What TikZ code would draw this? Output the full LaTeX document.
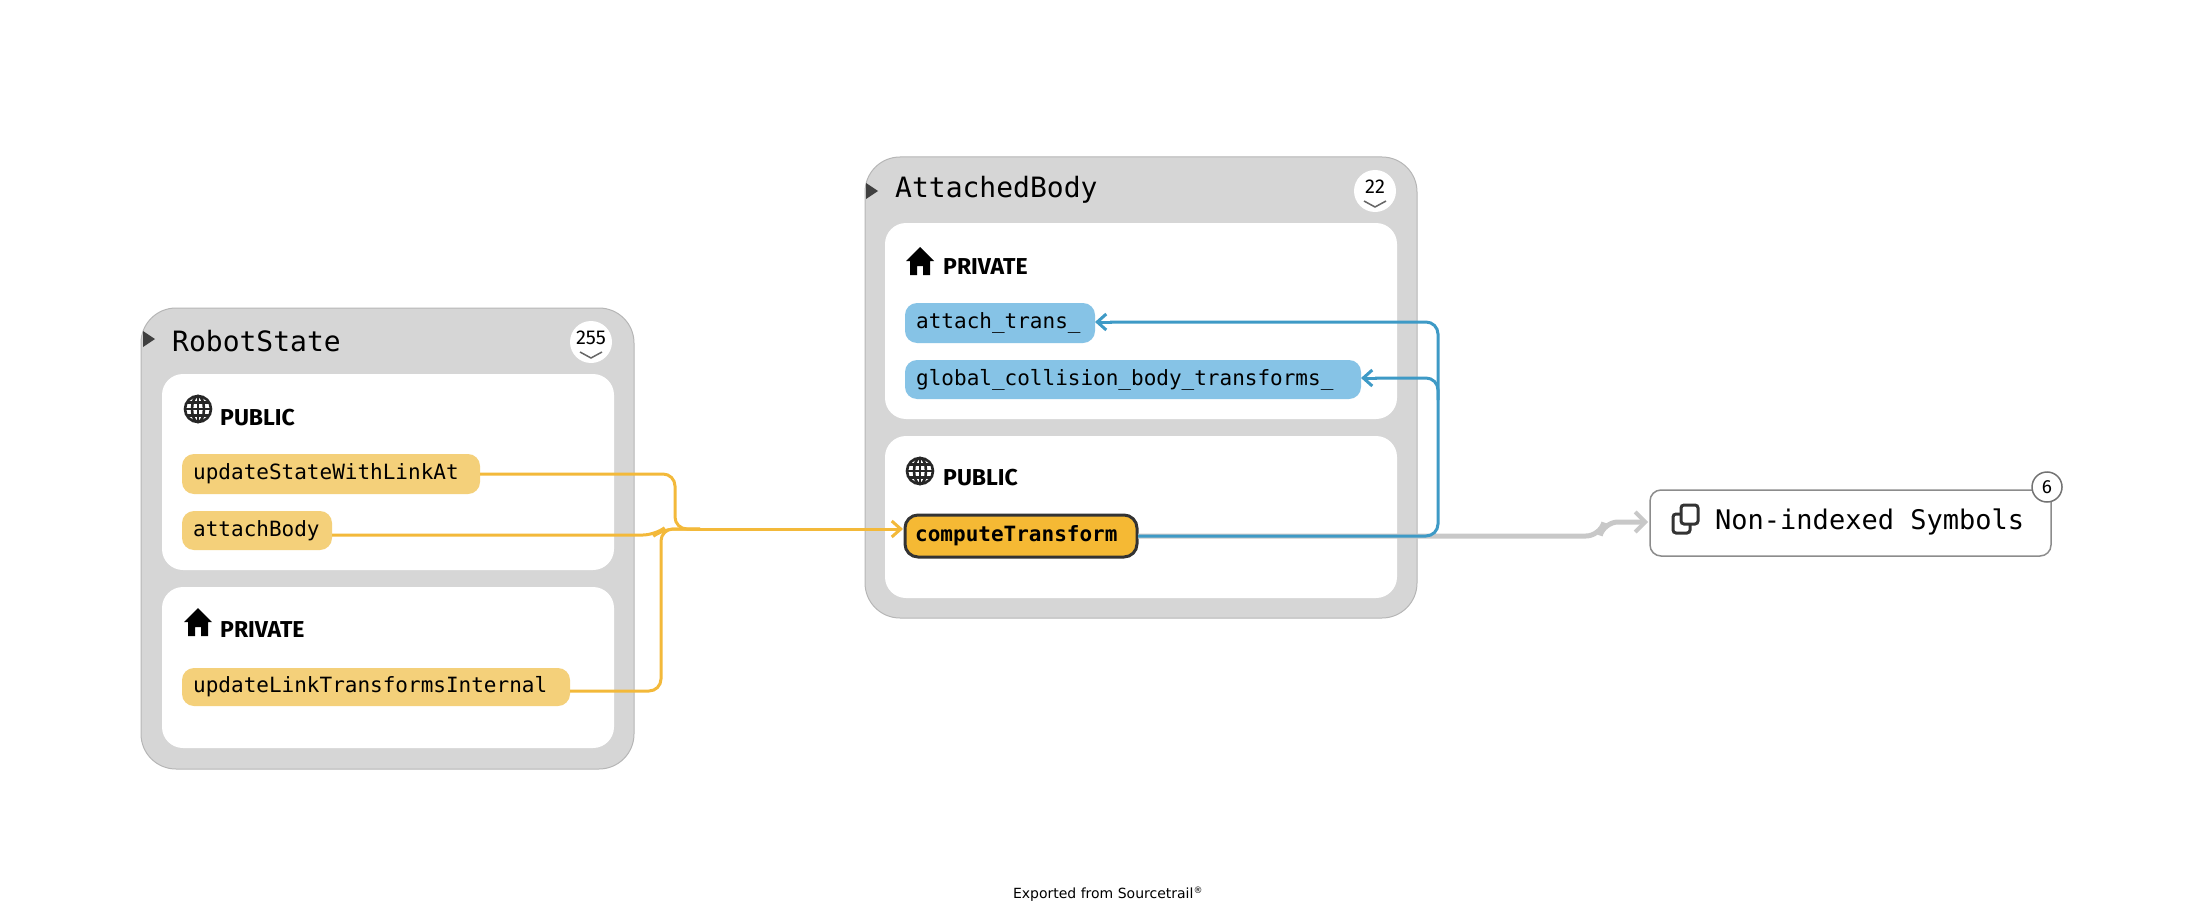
\documentclass[tikz,border=0pt]{standalone}
\usepackage{fontspec}
\setmainfont{DejaVu Sans}
\newfontfamily\monof{DejaVu Sans Mono}
\newfontfamily\headf{Fira Sans}
\usetikzlibrary{arrows.meta}
\definecolor{outerg}{HTML}{D6D6D6}
\definecolor{pilly}{HTML}{F4D07A}
\definecolor{pillb}{HTML}{86C3E6}
\definecolor{acty}{HTML}{F5B934}
\definecolor{edgy}{HTML}{F3B93A}
\definecolor{edgb}{HTML}{3E9AC6}
\definecolor{edgg}{HTML}{C8C8C8}
\tikzset{
 outerbox/.style={fill=outerg,draw=outerg!85!black,line width=1pt,rounded corners=35pt},
 innerbox/.style={fill=white,rounded corners=21pt},
 pill/.style={rounded corners=12pt,inner sep=0pt},
 pilltext/.style={font=\monof\fontsize{21}{24}\selectfont,anchor=west,inner sep=0pt},
 titletext/.style={font=\monof\fontsize{28}{32}\selectfont,anchor=west,inner sep=0pt},
 headtext/.style={font=\headf\bfseries\fontsize{23}{26}\selectfont,anchor=west,inner sep=0pt},
 badge/.style={circle,fill=white,minimum size=42pt,inner sep=0pt},
 yedge/.style={draw=edgy,line width=3pt,rounded corners=12pt},
 bedge/.style={draw=edgb,line width=3pt,rounded corners=12pt},
 arrowy/.style={-{Straight Barb[length=9pt,width=16pt,line width=3pt]}},
}
\newcommand{\globeicon}[1]{%
 \begin{scope}[shift={#1},line width=2.6pt,black!85]
  \draw (0,0) circle (13pt);
  \draw (0,-13) -- (0,13); \draw (-13,0) -- (13,0);
  \draw (0,0) ellipse (6pt and 13pt);
  \draw (-11,-6.5) -- (11,-6.5); \draw (-11,6.5) -- (11,6.5);
 \end{scope}}
\newcommand{\houseicon}[1]{%
 \begin{scope}[shift={#1}]
  \fill[black] (-14,0) -- (0,-14) -- (14,0) -- (10,0) -- (10,14) -- (3,14) -- (3,5) -- (-3,5) -- (-3,14) -- (-10,14) -- (-10,0) -- cycle;
 \end{scope}}
\begin{document}
\begin{tikzpicture}[x=1pt,y=-1pt]
\useasboundingbox (0,0) rectangle (2202,912);
% ---------- RobotState
\draw[outerbox] (141,308) rectangle (634,769);
\fill[black!75] (143,331) -- (155,339) -- (143,347) -- cycle;
\node[titletext] (rstitle) at (172,341) {RobotState};
\node[badge] (rsbadge) at (591,342) {};
\node[font=\headf\fontsize{20}{22}\selectfont,inner sep=0pt] at (591,338) {255};
\draw[black!60,line width=1.5pt] (580,352) -- (591,358) -- (602,352);
\fill[innerbox] (162,374) rectangle (614,570);
\globeicon{(198,409)}
\node[headtext] (rspub) at (220,418) {PUBLIC};
\fill[pilly,pill] (182,454) rectangle (480,494);
\node[pilltext] (usw) at (193,474) {updateStateWithLinkAt};
\coordinate (uswR) at (480,474);
\fill[pilly,pill] (182,511) rectangle (332,550);
\node[pilltext] (ab) at (193,531) {attachBody};
\coordinate (abR) at (332,535);
\fill[innerbox] (162,587) rectangle (614,748);
\houseicon{(198,622)}
\node[headtext] (rspriv) at (220,630) {PRIVATE};
\fill[pilly,pill] (182,668) rectangle (570,706);
\node[pilltext] (ulti) at (193,687) {updateLinkTransformsInternal};
\coordinate (ultiR) at (570,691);
% ---------- AttachedBody
\draw[outerbox] (865,157) rectangle (1417,618);
\fill[black!75] (866,183) -- (878,191) -- (866,199) -- cycle;
\node[titletext] (abtitle) at (895,190) {AttachedBody};
\node[badge] (abbadge) at (1375,191) {};
\node[font=\headf\fontsize{20}{22}\selectfont,inner sep=0pt] at (1375,187) {22};
\draw[black!60,line width=1.5pt] (1364,201) -- (1375,207) -- (1386,201);
\fill[innerbox] (885,223) rectangle (1397,419);
\houseicon{(920,261)}
\node[headtext] (abpriv) at (943,267) {PRIVATE};
\fill[pillb,pill] (905,303) rectangle (1095,343);
\node[pilltext] (at) at (916,323) {attach\_trans\_};
\coordinate (atR) at (1095,322);
\fill[pillb,pill] (905,360) rectangle (1361,399);
\node[pilltext] (gc) at (916,380) {global\_collision\_body\_transforms\_};
\coordinate (gcR) at (1361,378);
\fill[innerbox] (885,436) rectangle (1397,598);
\globeicon{(920,471)}
\node[headtext] (abpub) at (943,478) {PUBLIC};
\draw[fill=acty,draw=black!80,line width=3pt,rounded corners=13pt] (905,515) rectangle (1137,557);
\node[pilltext,font=\monof\bfseries\fontsize{21}{24}\selectfont] (ct) at (915,536) {computeTransform};
\coordinate (ctL) at (903,529);
\coordinate (ctR) at (1138,536);
% ---------- Non-indexed
\draw[fill=white,draw=black!45,line width=1.5pt,rounded corners=11pt] (1650,490) rectangle (2051,556);
\node[titletext,font=\monof\fontsize{27}{30}\selectfont] (ni) at (1715,522) {Non-indexed Symbols};
\coordinate (niL) at (1648,522);
\draw[black!80,line width=3pt,rounded corners=3pt] (1673,514) rectangle (1690,533);
\draw[black!80,line width=3pt,rounded corners=3pt,fill=white] (1681,505) rectangle (1698,524);
\node[circle,fill=white,draw=black!55,line width=1.5pt,minimum size=30pt,inner sep=0pt,font=\headf\fontsize{19}{21}\selectfont] (nibadge) at (2047,487) {6};
% ---------- Edges
\draw[edgg,line width=5pt,rounded corners=14pt,-{Straight Barb[length=10pt,width=20pt,line width=4pt]}]
  (ctR) -- (1600,536) -- (1604,522) -- (niL);
\draw[bedge] (ctR) -- (1438,536) -- (1438,322) -- (1110,322);
\draw[bedge,arrowy] (1112,322) -- (atR);
\draw[bedge] (1438,400) -- (1438,378) -- (1375,378);
\draw[bedge,arrowy] (1377,378) -- (gcR);
\draw[yedge] (uswR) -- (675,474) -- (675,529) -- (700,529);
\draw[yedge] (abR) -- (655,535) -- (663,529) -- (700,529);
\draw[yedge] (ultiR) -- (661,691) -- (661,529) -- (700,529);
\draw[yedge,arrowy] (690,529) -- (ctL);
% ---------- footer
\node[font=\fontsize{14}{16}\selectfont,inner sep=0pt] (foot) at (1108,894) {Exported from Sourcetrail\textsuperscript{\fontsize{9}{9}\selectfont ®}};
\end{tikzpicture}
\end{document}
